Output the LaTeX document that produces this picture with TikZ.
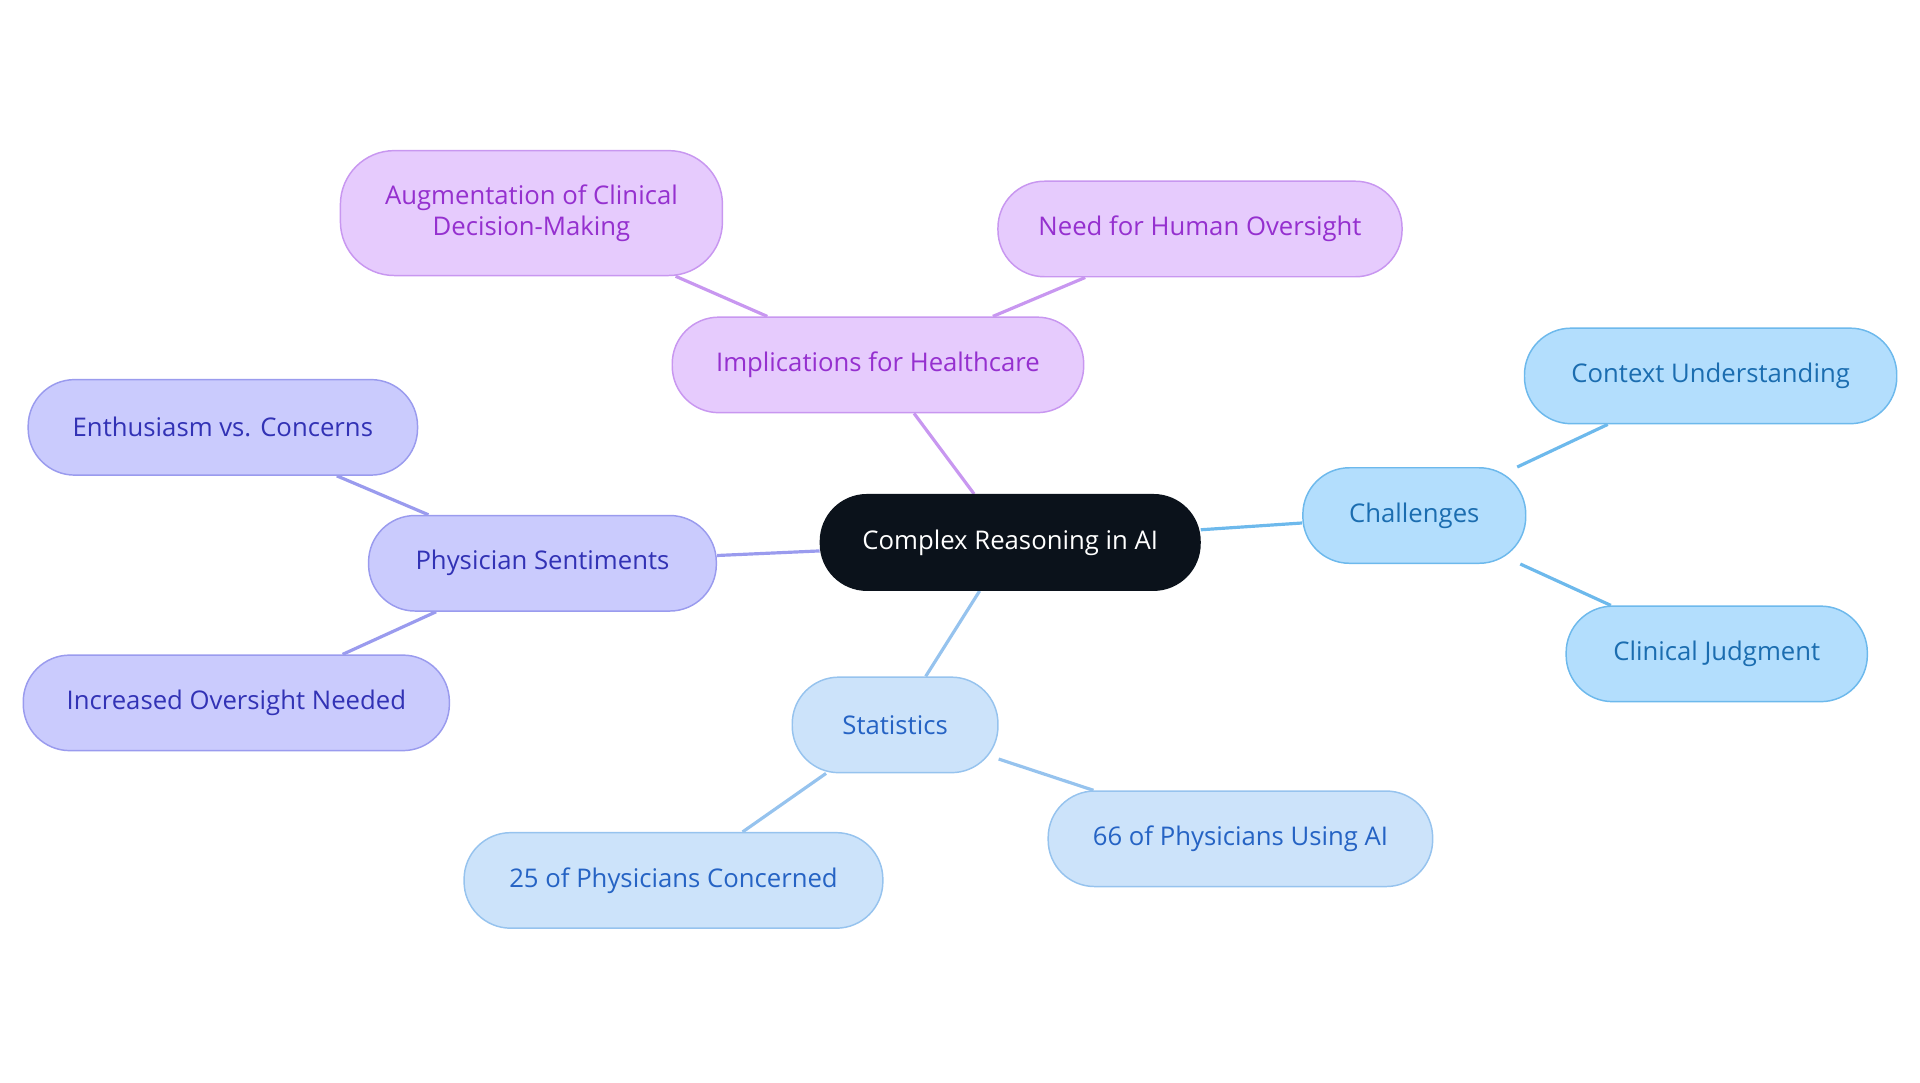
\documentclass[tikz,border=0pt]{standalone}
\usepackage{fontspec}
\setmainfont{Open Sans}
\usetikzlibrary{backgrounds}
\definecolor{cdark}{HTML}{0B121B}
\definecolor{pfill}{HTML}{E6CBFD}\definecolor{pline}{HTML}{C897F0}\definecolor{ptext}{HTML}{9530CF}
\definecolor{bfill}{HTML}{B3DEFD}\definecolor{bline}{HTML}{6DB9EC}\definecolor{btext}{HTML}{1B6DB0}
\definecolor{sfill}{HTML}{CCE3FA}\definecolor{sline}{HTML}{96C3EE}\definecolor{stext}{HTML}{2563C4}
\definecolor{vfill}{HTML}{CACBFD}\definecolor{vline}{HTML}{9A9BEE}\definecolor{vtext}{HTML}{3232B5}
\tikzset{
 base/.style={rounded corners=19pt,minimum height=39pt,align=center,font=\fontsize{10.5}{12.5}\selectfont,line width=0.6pt},
 pbox/.style={base,fill=pfill,draw=pline,text=ptext},
 bbox/.style={base,fill=bfill,draw=bline,text=btext},
 sbox/.style={base,fill=sfill,draw=sline,text=stext},
 vbox/.style={base,fill=vfill,draw=vline,text=vtext},
 edge/.style={line width=1.3pt}
}
\begin{document}
\begin{tikzpicture}[x=0.5pt,y=-0.5pt]
\useasboundingbox (0,0) rectangle (1568,884);
\node[base,fill=cdark,draw=cdark,text=white,minimum width=155pt] (c) at (825,443) {Complex Reasoning in AI};
\node[pbox,minimum width=168pt] (imp) at (717,298) {Implications for Healthcare};
\node[pbox,minimum width=156pt,minimum height=51pt,rounded corners=22pt] (aug) at (434,174) {Augmentation of Clinical\\Decision-Making};
\node[pbox,minimum width=165pt] (need) at (980,187) {Need for Human Oversight};
\node[bbox,minimum width=91pt] (ch) at (1155,421) {Challenges};
\node[bbox,minimum width=152pt] (ctx) at (1397,307) {Context Understanding};
\node[bbox,minimum width=123pt] (cj) at (1402,534) {Clinical Judgment};
\node[sbox,minimum width=84pt] (st) at (731,592) {Statistics};
\node[sbox,minimum width=157pt] (s66) at (1013,685) {66 of Physicians Using AI};
\node[sbox,minimum width=171pt] (s25) at (550,719) {25 of Physicians Concerned};
\node[vbox,minimum width=142pt] (ps) at (443,460) {Physician Sentiments};
\node[vbox,minimum width=159pt] (en) at (182,349) {Enthusiasm vs. Concerns};
\node[vbox,minimum width=174pt] (inc) at (193,574) {Increased Oversight Needed};
\begin{scope}[on background layer]
\draw[edge,pline] (c)--(imp) (imp)--(aug) (imp)--(need);
\draw[edge,bline] (c)--(ch) (ch)--(ctx) (ch)--(cj);
\draw[edge,sline] (c)--(st) (st)--(s66) (st)--(s25);
\draw[edge,vline] (c)--(ps) (ps)--(en) (ps)--(inc);
\end{scope}
\end{tikzpicture}
\end{document}
